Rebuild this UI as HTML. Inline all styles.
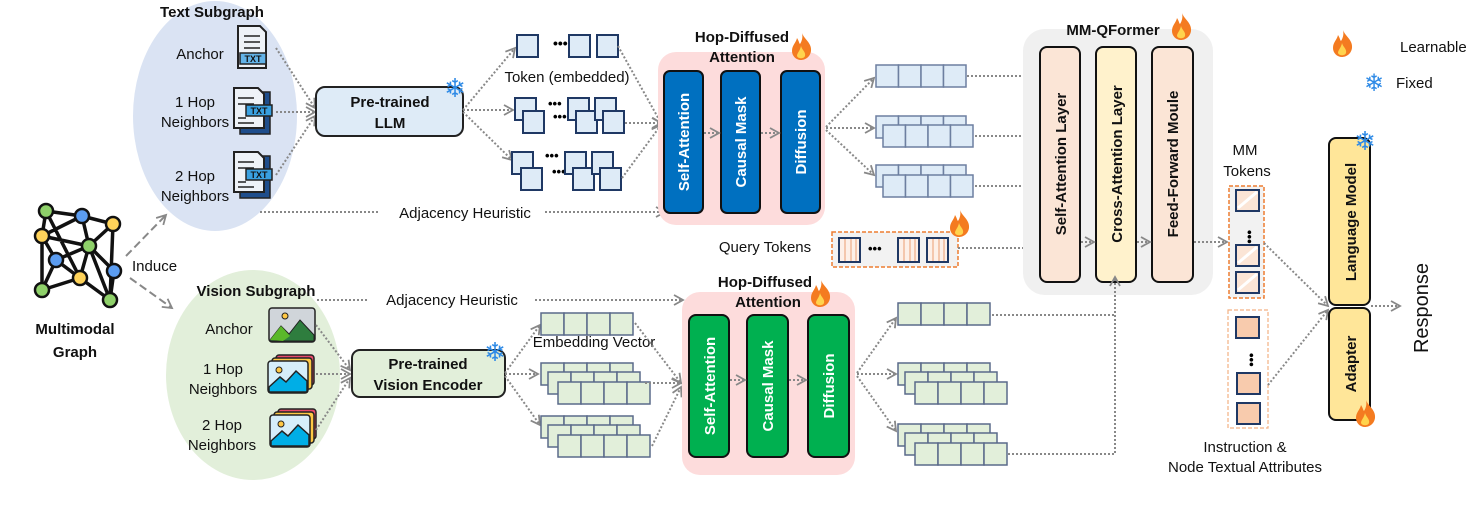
<!DOCTYPE html>
<html><head><meta charset="utf-8"><style>
html,body{margin:0;padding:0;background:#fff;}
svg{display:block;font-family:"Liberation Sans",sans-serif;}
.t{font-size:15px;fill:#111;}
.b{font-size:15px;font-weight:bold;fill:#111;}
.w{font-size:15px;font-weight:bold;fill:#fff;}
.k{font-size:15px;font-weight:bold;fill:#111;}
.dl{stroke:#888;stroke-width:2;stroke-dasharray:2 2;fill:none;}
</style></head><body>
<svg width="1466" height="515" viewBox="0 0 1466 515" xmlns="http://www.w3.org/2000/svg">
<defs>
<marker id="a" markerWidth="12" markerHeight="12" refX="10" refY="6" orient="auto" markerUnits="userSpaceOnUse">
<path d="M1,1 L10,6 L1,11" fill="none" stroke="#888" stroke-width="1.8"/></marker>
<g id="rb"><rect x="0" y="0" width="22.5" height="22" fill="#deebf7" stroke="#6d7fa0" stroke-width="1.5"/><rect x="22.5" y="0" width="22.5" height="22" fill="#deebf7" stroke="#6d7fa0" stroke-width="1.5"/><rect x="45" y="0" width="22.5" height="22" fill="#deebf7" stroke="#6d7fa0" stroke-width="1.5"/><rect x="67.5" y="0" width="22.5" height="22" fill="#deebf7" stroke="#6d7fa0" stroke-width="1.5"/></g>
<g id="rg"><rect x="0" y="0" width="23" height="22" fill="#e2efda" stroke="#5a6a8a" stroke-width="1.5"/><rect x="23" y="0" width="23" height="22" fill="#e2efda" stroke="#5a6a8a" stroke-width="1.5"/><rect x="46" y="0" width="23" height="22" fill="#e2efda" stroke="#5a6a8a" stroke-width="1.5"/><rect x="69" y="0" width="23" height="22" fill="#e2efda" stroke="#5a6a8a" stroke-width="1.5"/></g>
<g id="sq"><rect width="21" height="22" fill="#deebf7" stroke="#1f3864" stroke-width="2"/></g>
<g id="fl"><path d="M10,0 C12,6 20,10 19,18 C18,25 12,27 9,27 C4,27 0,23 0,18 C0,12 4,10 5,5 C7,8 7,10 8,11 C10,8 11,4 10,0Z" fill="#f47b20"/><path d="M9,13 C10,17 14,19 13,23 C12,26 6,26 5,23 C5,20 8,18 9,13Z" fill="#ffd34d"/></g>
<g id="txt"><path d="M2,0 L24,0 L30,6 L30,42 L2,42Z" fill="#eef2f7" stroke="#222" stroke-width="2"/><path d="M8,10 H24 M8,16 H24 M8,22 H24" stroke="#222" stroke-width="1.5"/><rect x="4" y="27" width="26" height="11" fill="#63b3e8" stroke="#222" stroke-width="1.5"/><text x="17" y="36" font-size="9" font-weight="bold" text-anchor="middle" fill="#111">TXT</text></g>
<g id="txt2"><rect x="8" y="4" width="30" height="42" fill="#1f4e8c" stroke="#222" stroke-width="1.5"/><path d="M2,0 L26,0 L32,6 L32,40 L2,40Z" fill="#eef2f7" stroke="#222" stroke-width="2"/><path d="M6,10 H22 M6,16 H22 M6,30 H14 M6,35 H22" stroke="#222" stroke-width="1.5"/><rect x="14" y="17" width="26" height="11" fill="#39a0e0" stroke="#222" stroke-width="1.5"/><text x="27" y="26" font-size="9" font-weight="bold" text-anchor="middle" fill="#111">TXT</text></g>
<g id="img2"><rect x="8" y="0" width="38" height="30" rx="3" fill="#e84a6a" stroke="#222" stroke-width="1.5"/><rect x="4" y="3" width="40" height="31" rx="3" fill="#ffc845" stroke="#222" stroke-width="1.5"/><rect x="0" y="6" width="40" height="32" rx="3" fill="#d6eefa" stroke="#222" stroke-width="1.5"/><path d="M1,32 L12,22 L18,27 L28,16 L39,26 L39,37 L1,37Z" fill="#00aee6" stroke="#222" stroke-width="1.5"/><circle cx="11" cy="15" r="3" fill="#ffc845" stroke="#222" stroke-width="1"/></g>
</defs>

<ellipse cx="215" cy="116" rx="82" ry="115" fill="#dae3f3"/>
<text x="212" y="17" class="b" text-anchor="middle">Text Subgraph</text>
<text x="200" y="59" class="t" text-anchor="middle">Anchor</text>
<use href="#txt" x="236" y="26"/>
<text x="195" y="107" class="t" text-anchor="middle">1 Hop</text>
<text x="195" y="127" class="t" text-anchor="middle">Neighbors</text>
<use href="#txt2" x="232" y="88"/>
<text x="195" y="181" class="t" text-anchor="middle">2 Hop</text>
<text x="195" y="201" class="t" text-anchor="middle">Neighbors</text>
<use href="#txt2" x="232" y="152"/>
<path class="dl" d="M276,48 L315,108" marker-end="url(#a)"/>
<path class="dl" d="M276,112 L315,112" marker-end="url(#a)"/>
<path class="dl" d="M276,175 L315,116" marker-end="url(#a)"/>
<rect x="316" y="87" width="147" height="49" rx="9" fill="#deebf7" stroke="#222" stroke-width="2"/>
<text x="390" y="107" class="b" text-anchor="middle">Pre-trained</text>
<text x="390" y="128" class="b" text-anchor="middle">LLM</text>
<text x="455" y="97" font-size="26" fill="#2e8ae6" text-anchor="middle">❄</text>

<path class="dl" d="M463,110 L515,48" marker-end="url(#a)"/>
<path class="dl" d="M463,110 L513,110" marker-end="url(#a)"/>
<path class="dl" d="M463,112 L512,160" marker-end="url(#a)"/>
<use href="#sq" x="517" y="35"/><text x="553" y="48" font-size="14" font-weight="bold">•••</text><use href="#sq" x="569" y="35"/><use href="#sq" x="597" y="35"/>
<text x="567" y="82" class="t" text-anchor="middle">Token (embedded)</text>
<use href="#sq" x="515" y="98"/><use href="#sq" x="523" y="111"/><text x="548" y="108" font-size="13" font-weight="bold">•••</text><text x="553" y="121" font-size="13" font-weight="bold">•••</text>
<use href="#sq" x="568" y="98"/><use href="#sq" x="576" y="111"/><use href="#sq" x="595" y="98"/><use href="#sq" x="603" y="111"/>
<use href="#sq" x="512" y="152"/><use href="#sq" x="521" y="168"/><text x="545" y="160" font-size="13" font-weight="bold">•••</text><text x="552" y="176" font-size="13" font-weight="bold">•••</text>
<use href="#sq" x="565" y="152"/><use href="#sq" x="573" y="168"/><use href="#sq" x="592" y="152"/><use href="#sq" x="600" y="168"/>
<path class="dl" d="M618,46 L661,123" marker-end="url(#a)"/>
<path class="dl" d="M625,123 L661,123" marker-end="url(#a)"/>
<path class="dl" d="M622,178 L661,125" marker-end="url(#a)"/>
<path class="dl" d="M260,212 L380,212"/>
<text x="465" y="218" class="t" text-anchor="middle">Adjacency Heuristic</text>
<path class="dl" d="M545,212 L665,212" marker-end="url(#a)"/>

<rect x="658" y="52" width="167" height="173" rx="18" fill="#fddcdc"/>
<text x="742" y="42" class="k" text-anchor="middle">Hop-Diffused</text>
<text x="742" y="62" class="k" text-anchor="middle">Attention</text>
<use href="#fl" x="792" y="33"/>
<rect x="664" y="71" width="39" height="142" rx="6" fill="#0070c0" stroke="#111" stroke-width="2"/>
<rect x="721" y="71" width="39" height="142" rx="6" fill="#0070c0" stroke="#111" stroke-width="2"/>
<rect x="781" y="71" width="39" height="142" rx="6" fill="#0070c0" stroke="#111" stroke-width="2"/>
<text transform="translate(689,142) rotate(-90)" class="w" text-anchor="middle">Self-Attention</text>
<text transform="translate(746,142) rotate(-90)" class="w" text-anchor="middle">Causal Mask</text>
<text transform="translate(806,142) rotate(-90)" class="w" text-anchor="middle">Diffusion</text>
<path class="dl" d="M704,133 L719,133" marker-end="url(#a)"/>
<path class="dl" d="M761,133 L779,133" marker-end="url(#a)"/>
<path class="dl" d="M826,127 L874,78" marker-end="url(#a)"/>
<path class="dl" d="M826,128 L874,128" marker-end="url(#a)"/>
<path class="dl" d="M826,130 L874,175" marker-end="url(#a)"/>
<use href="#rb" x="876" y="65"/>
<use href="#rb" x="876" y="116"/><use href="#rb" x="883" y="125"/>
<use href="#rb" x="876" y="165"/><use href="#rb" x="883" y="175"/>
<path class="dl" d="M967,76 L1035,76" marker-end="url(#a)"/>
<path class="dl" d="M975,136 L1035,136" marker-end="url(#a)"/>
<path class="dl" d="M975,186 L1037,186" marker-end="url(#a)"/>

<text x="765" y="252" class="t" text-anchor="middle">Query Tokens</text>
<rect x="832" y="232" width="126" height="35" fill="#f2f2f2" stroke="#ed7d31" stroke-width="1.5" stroke-dasharray="4 2"/>
<g fill="#fdf0e8" stroke="#1f3864" stroke-width="2">
<rect x="839" y="238" width="21" height="24"/><rect x="898" y="238" width="21" height="24"/><rect x="927" y="238" width="21" height="24"/></g>
<g stroke="#f4c7ad" stroke-width="2"><path d="M845,239 V261 M851,239 V261 M856,239 V261 M904,239 V261 M910,239 V261 M915,239 V261 M933,239 V261 M939,239 V261 M944,239 V261"/></g>
<text x="868" y="253" font-size="13" font-weight="bold">•••</text>
<use href="#fl" x="950" y="210"/>
<path class="dl" d="M958,248 L1035,248" marker-end="url(#a)"/>

<rect x="1023" y="29" width="190" height="266" rx="22" fill="#f0f0f0"/>
<text x="1113" y="35" class="k" text-anchor="middle" font-size="16">MM-QFormer</text>
<use href="#fl" x="1172" y="13"/>
<rect x="1040" y="47" width="40" height="235" rx="7" fill="#fbe5d6" stroke="#111" stroke-width="2"/>
<rect x="1096" y="47" width="40" height="235" rx="7" fill="#fff2cc" stroke="#111" stroke-width="2"/>
<rect x="1152" y="47" width="41" height="235" rx="7" fill="#fbe5d6" stroke="#111" stroke-width="2"/>
<text transform="translate(1066,164) rotate(-90)" class="k" text-anchor="middle">Self-Attention Layer</text>
<text transform="translate(1122,164) rotate(-90)" class="k" text-anchor="middle">Cross-Attention Layer</text>
<text transform="translate(1178,164) rotate(-90)" class="k" text-anchor="middle">Feed-Forward Moule</text>
<path class="dl" d="M1081,242 L1094,242" marker-end="url(#a)"/>
<path class="dl" d="M1137,242 L1150,242" marker-end="url(#a)"/>
<path class="dl" d="M1194,242 L1227,242" marker-end="url(#a)"/>
<path class="dl" d="M992,315 L1115,315"/>
<path class="dl" d="M992,454 L1115,454 L1115,277" marker-end="url(#a)"/>

<use href="#fl" x="1333" y="30"/>
<text x="1400" y="52" class="t">Learnable</text>
<text x="1374" y="91" font-size="24" fill="#2e8ae6" text-anchor="middle">❄</text>
<text x="1396" y="88" class="t">Fixed</text>

<text x="1245" y="155" class="t" text-anchor="middle">MM</text>
<text x="1247" y="176" class="t" text-anchor="middle">Tokens</text>
<rect x="1229" y="186" width="35" height="112" fill="#f2f2f2" stroke="#ed7d31" stroke-width="1.5" stroke-dasharray="4 2"/>
<g fill="#fbe5d6" stroke="#1f3864" stroke-width="2"><rect x="1236" y="190" width="23" height="21"/><rect x="1236" y="245" width="23" height="21"/><rect x="1236" y="272" width="23" height="21"/></g>
<g stroke="#fff" stroke-width="3"><path d="M1238,208 L1257,192 M1238,263 L1257,247 M1238,290 L1257,274"/></g>
<text x="1253" y="238" font-size="13" font-weight="bold" transform="rotate(90,1253,230)">•••</text>
<rect x="1228" y="310" width="40" height="118" fill="none" stroke="#f4b183" stroke-width="1.2" stroke-dasharray="4 2"/>
<g fill="#f8cbad" stroke="#1f3864" stroke-width="2"><rect x="1236" y="317" width="23" height="21"/><rect x="1237" y="373" width="23" height="21"/><rect x="1237" y="403" width="23" height="21"/></g>
<text x="1254" y="360" font-size="13" font-weight="bold" transform="rotate(90,1254,353)">•••</text>
<text x="1245" y="452" class="t" text-anchor="middle">Instruction &amp;</text>
<text x="1245" y="472" class="t" text-anchor="middle">Node Textual Attributes</text>
<path class="dl" d="M1264,243 L1328,306" marker-end="url(#a)"/>
<path class="dl" d="M1268,385 L1328,310" marker-end="url(#a)"/>

<rect x="1329" y="138" width="41" height="167" rx="7" fill="#ffe699" stroke="#111" stroke-width="2"/>
<rect x="1329" y="308" width="41" height="112" rx="7" fill="#ffe699" stroke="#111" stroke-width="2"/>
<text transform="translate(1356,222) rotate(-90)" class="k" text-anchor="middle">Language Model</text>
<text transform="translate(1356,364) rotate(-90)" class="k" text-anchor="middle">Adapter</text>
<text x="1365" y="150" font-size="26" fill="#2e8ae6" text-anchor="middle">❄</text>
<use href="#fl" x="1356" y="400"/>
<path class="dl" d="M1371,306 L1400,306" marker-end="url(#a)"/>
<text transform="translate(1428,308) rotate(-90)" font-size="20" fill="#111" text-anchor="middle">Response</text>

<g stroke="#111" stroke-width="3.5" stroke-linecap="round">
<path d="M46,211 L82,216 L113,224 M46,211 L42,236 M46,211 L80,278 M82,216 L42,236 M82,216 L89,246 M113,224 L89,246 M113,224 L110,300 M42,236 L89,246 M42,236 L56,260 M42,236 L42,290 M89,246 L56,260 M89,246 L80,278 M89,246 L114,271 M89,246 L110,300 M56,260 L80,278 M80,278 L42,290 M80,278 L110,300 M114,271 L110,300 M56,260 L42,290"/></g>
<g stroke="#111" stroke-width="2.5">
<circle cx="46" cy="211" r="7" fill="#8fd16a"/><circle cx="82" cy="216" r="7" fill="#5b9cf0"/><circle cx="113" cy="224" r="7" fill="#ffd35a"/><circle cx="42" cy="236" r="7" fill="#ffd35a"/><circle cx="89" cy="246" r="7" fill="#8fd16a"/><circle cx="56" cy="260" r="7" fill="#5b9cf0"/><circle cx="80" cy="278" r="7" fill="#ffd35a"/><circle cx="114" cy="271" r="7" fill="#5b9cf0"/><circle cx="42" cy="290" r="7" fill="#8fd16a"/><circle cx="110" cy="300" r="7" fill="#8fd16a"/></g>
<text x="75" y="334" class="b" text-anchor="middle">Multimodal</text>
<text x="75" y="357" class="b" text-anchor="middle">Graph</text>
<path d="M126,256 L166,215" stroke="#888" stroke-width="2" stroke-dasharray="8 4" fill="none" marker-end="url(#a)"/>
<path d="M130,278 L172,308" stroke="#888" stroke-width="2" stroke-dasharray="8 4" fill="none" marker-end="url(#a)"/>
<text x="132" y="271" class="t">Induce</text>

<ellipse cx="253" cy="375" rx="87" ry="105" fill="#e2efda"/>
<text x="256" y="296" class="b" text-anchor="middle">Vision Subgraph</text>
<text x="229" y="334" class="t" text-anchor="middle">Anchor</text>
<g><rect x="269" y="308" width="46" height="34" rx="3" fill="#d0d5da" stroke="#222" stroke-width="1.5"/><path d="M270,340 L281,326 L289,334 L300,320 L314,335 L314,341 L270,341Z" fill="#2e7d3e" stroke="#222" stroke-width="1"/><path d="M270,340 L281,326 L290,336 L283,341Z" fill="#5ab82a"/><circle cx="285" cy="316" r="3" fill="#ffc845" stroke="#222"/></g>
<text x="223" y="374" class="t" text-anchor="middle">1 Hop</text>
<text x="223" y="394" class="t" text-anchor="middle">Neighbors</text>
<use href="#img2" x="268" y="355"/>
<text x="222" y="430" class="t" text-anchor="middle">2 Hop</text>
<text x="222" y="450" class="t" text-anchor="middle">Neighbors</text>
<use href="#img2" x="270" y="409"/>
<path class="dl" d="M316,325 L350,370" marker-end="url(#a)"/>
<path class="dl" d="M316,374 L350,374" marker-end="url(#a)"/>
<path class="dl" d="M316,430 L350,378" marker-end="url(#a)"/>
<rect x="352" y="350" width="153" height="47" rx="8" fill="#e2efda" stroke="#222" stroke-width="2"/>
<text x="428" y="369" class="b" text-anchor="middle">Pre-trained</text>
<text x="428" y="390" class="b" text-anchor="middle">Vision Encoder</text>
<text x="495" y="361" font-size="26" fill="#2e8ae6" text-anchor="middle">❄</text>
<path class="dl" d="M317,300 L368,300"/>
<text x="452" y="305" class="t" text-anchor="middle">Adjacency Heuristic</text>
<path class="dl" d="M535,300 L683,300" marker-end="url(#a)"/>

<path class="dl" d="M505,373 L540,325" marker-end="url(#a)"/>
<path class="dl" d="M505,374 L538,374" marker-end="url(#a)"/>
<path class="dl" d="M505,376 L540,425" marker-end="url(#a)"/>
<use href="#rg" x="541" y="313"/>
<text x="594" y="347" class="t" text-anchor="middle">Embedding Vector</text>
<use href="#rg" x="541" y="363"/><use href="#rg" x="548" y="372"/><use href="#rg" x="558" y="382"/>
<use href="#rg" x="541" y="416"/><use href="#rg" x="548" y="425"/><use href="#rg" x="558" y="435"/>
<path class="dl" d="M635,323 L681,383" marker-end="url(#a)"/>
<path class="dl" d="M645,383 L681,383" marker-end="url(#a)"/>
<path class="dl" d="M652,446 L681,387" marker-end="url(#a)"/>

<rect x="682" y="292" width="173" height="183" rx="18" fill="#fddcdc"/>
<text x="765" y="287" class="k" text-anchor="middle">Hop-Diffused</text>
<text x="768" y="307" class="k" text-anchor="middle">Attention</text>
<use href="#fl" x="811" y="280"/>
<rect x="689" y="315" width="40" height="142" rx="7" fill="#00b050" stroke="#111" stroke-width="2"/>
<rect x="747" y="315" width="41" height="142" rx="7" fill="#00b050" stroke="#111" stroke-width="2"/>
<rect x="808" y="315" width="41" height="142" rx="7" fill="#00b050" stroke="#111" stroke-width="2"/>
<text transform="translate(715,386) rotate(-90)" class="w" text-anchor="middle">Self-Attention</text>
<text transform="translate(773,386) rotate(-90)" class="w" text-anchor="middle">Causal Mask</text>
<text transform="translate(834,386) rotate(-90)" class="w" text-anchor="middle">Diffusion</text>
<path class="dl" d="M730,380 L745,380" marker-end="url(#a)"/>
<path class="dl" d="M789,380 L806,380" marker-end="url(#a)"/>
<path class="dl" d="M857,373 L896,318" marker-end="url(#a)"/>
<path class="dl" d="M857,374 L896,374" marker-end="url(#a)"/>
<path class="dl" d="M857,376 L896,431" marker-end="url(#a)"/>
<use href="#rg" x="898" y="303"/>
<use href="#rg" x="898" y="363"/><use href="#rg" x="905" y="372"/><use href="#rg" x="915" y="382"/>
<use href="#rg" x="898" y="424"/><use href="#rg" x="905" y="433"/><use href="#rg" x="915" y="443"/>
</svg>
</body></html>
